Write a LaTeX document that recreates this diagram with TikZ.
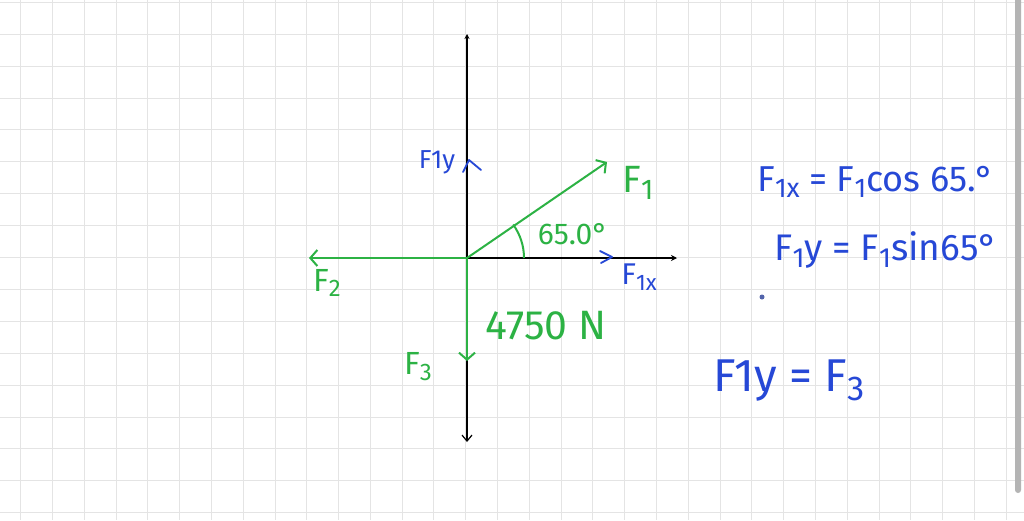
\documentclass[tikz,border=0pt]{standalone}
\usepackage{fontspec}
\setmainfont{Fira Sans}
\usetikzlibrary{arrows.meta}
\definecolor{gridgray}{RGB}{228,228,228}
\definecolor{forcegreen}{RGB}{44,178,68}
\definecolor{inkblue}{RGB}{38,72,214}
\definecolor{bargray}{RGB}{180,180,180}
\newcommand\lowsub[1]{\raisebox{-0.35ex}{\scalebox{0.75}{#1}}}
\tikzset{
  gridline/.style={draw=gridgray, line width=1pt},
  axis/.style={draw=black, line width=1.2pt},
  force/.style={draw=forcegreen, line width=2pt, -{Straight Barb[length=7pt,width=16pt,line width=2pt]}},
  bluelbl/.style={text=inkblue, inner sep=0pt},
  greenlbl/.style={text=forcegreen, inner sep=0pt},
  inkline/.style={draw=inkblue, line width=1.8pt, line cap=round, line join=round}
}
\begin{document}
\begin{tikzpicture}[x=1pt,y=-1pt]
\useasboundingbox[fill=white] (0,0) rectangle (1024,520);
% grid
\foreach \k in {0,...,31} {\draw[gridline] ({20.7+31.79*\k},0) -- ({20.7+31.79*\k},520);}
\foreach \k in {0,...,16} {\draw[gridline] (0,{2.3+31.9*\k}) -- (1024,{2.3+31.9*\k});}
% scrollbar
\fill[bargray, rounded corners=3pt] (1015,-5) rectangle (1021,493);
% coordinates
\coordinate (O) at (467,258);
\coordinate (Ytop) at (467,34);
\coordinate (Ybot) at (467,442);
\coordinate (Xright) at (677,258);
\coordinate (F1tip) at (607,162);
\coordinate (F2tip) at (309,258);
\coordinate (F3tip) at (467,361);
% axes
\draw[axis, -{Stealth[length=5pt,width=5pt]}] (O) -- (Ytop);
\draw[axis, -{Straight Barb[length=6pt,width=10pt,line width=1.2pt]}] (O) -- (Ybot);
\draw[axis, -{Stealth[length=6pt,width=6pt]}] (O) -- (Xright);
% forces
\draw[force] (O) -- (F1tip);
\draw[force] (O) -- (F2tip);
\draw[force] (O) -- (F3tip);
% angle arc
\draw[draw=forcegreen, line width=2pt] (524,258) arc[start angle=0, end angle=36, radius=57pt];
% blue component marks
\coordinate (cx1) at (600,251);
\coordinate (cx2) at (612,257);
\coordinate (cx3) at (601,263);
\draw[inkline] (cx1) -- (cx2) -- (cx3);
\coordinate (cy1) at (463,172);
\coordinate (cy2) at (469,160);
\coordinate (cy3) at (481,170);
\draw[inkline] (cy1) -- (cy2) -- (cy3);
% labels
\node[bluelbl, font=\fontsize{26}{28}\selectfont] (lF1y) at (437,162) {F1y};
\node[greenlbl, font=\fontsize{38}{40}\selectfont] (lF1) at (638,183) {F\lowsub{1}};
\node[greenlbl, font=\fontsize{30}{32}\selectfont] (lang) at (573,234) {65.0°};
\node[bluelbl, font=\fontsize{30}{32}\selectfont] (lF1x) at (639,277) {F\lowsub{1x}};
\node[greenlbl, font=\fontsize{32}{34}\selectfont] (lF2) at (327,283) {F\lowsub{2}};
\node[greenlbl, font=\fontsize{32}{34}\selectfont] (lF3) at (418,367) {F\lowsub{3}};
\node[greenlbl, font=\fontsize{41}{44}\selectfont] (lmag) at (546,326) {4750 N};
% equations
\node[bluelbl, font=\fontsize{36}{40}\selectfont] (eq1) at (876,182) {F\lowsub{1x} = F\lowsub{1}cos 65.°};
\node[bluelbl, font=\fontsize{37}{40}\selectfont] (eq2) at (886,250) {F\lowsub{1}y = F\lowsub{1}sin65°};
\node[bluelbl, font=\fontsize{46}{50}\selectfont] (eq3) at (789,381) {F1y = F\lowsub{3}};
\fill[inkblue!50!gray] (762,297) circle (2.5pt);
\end{tikzpicture}
\end{document}
